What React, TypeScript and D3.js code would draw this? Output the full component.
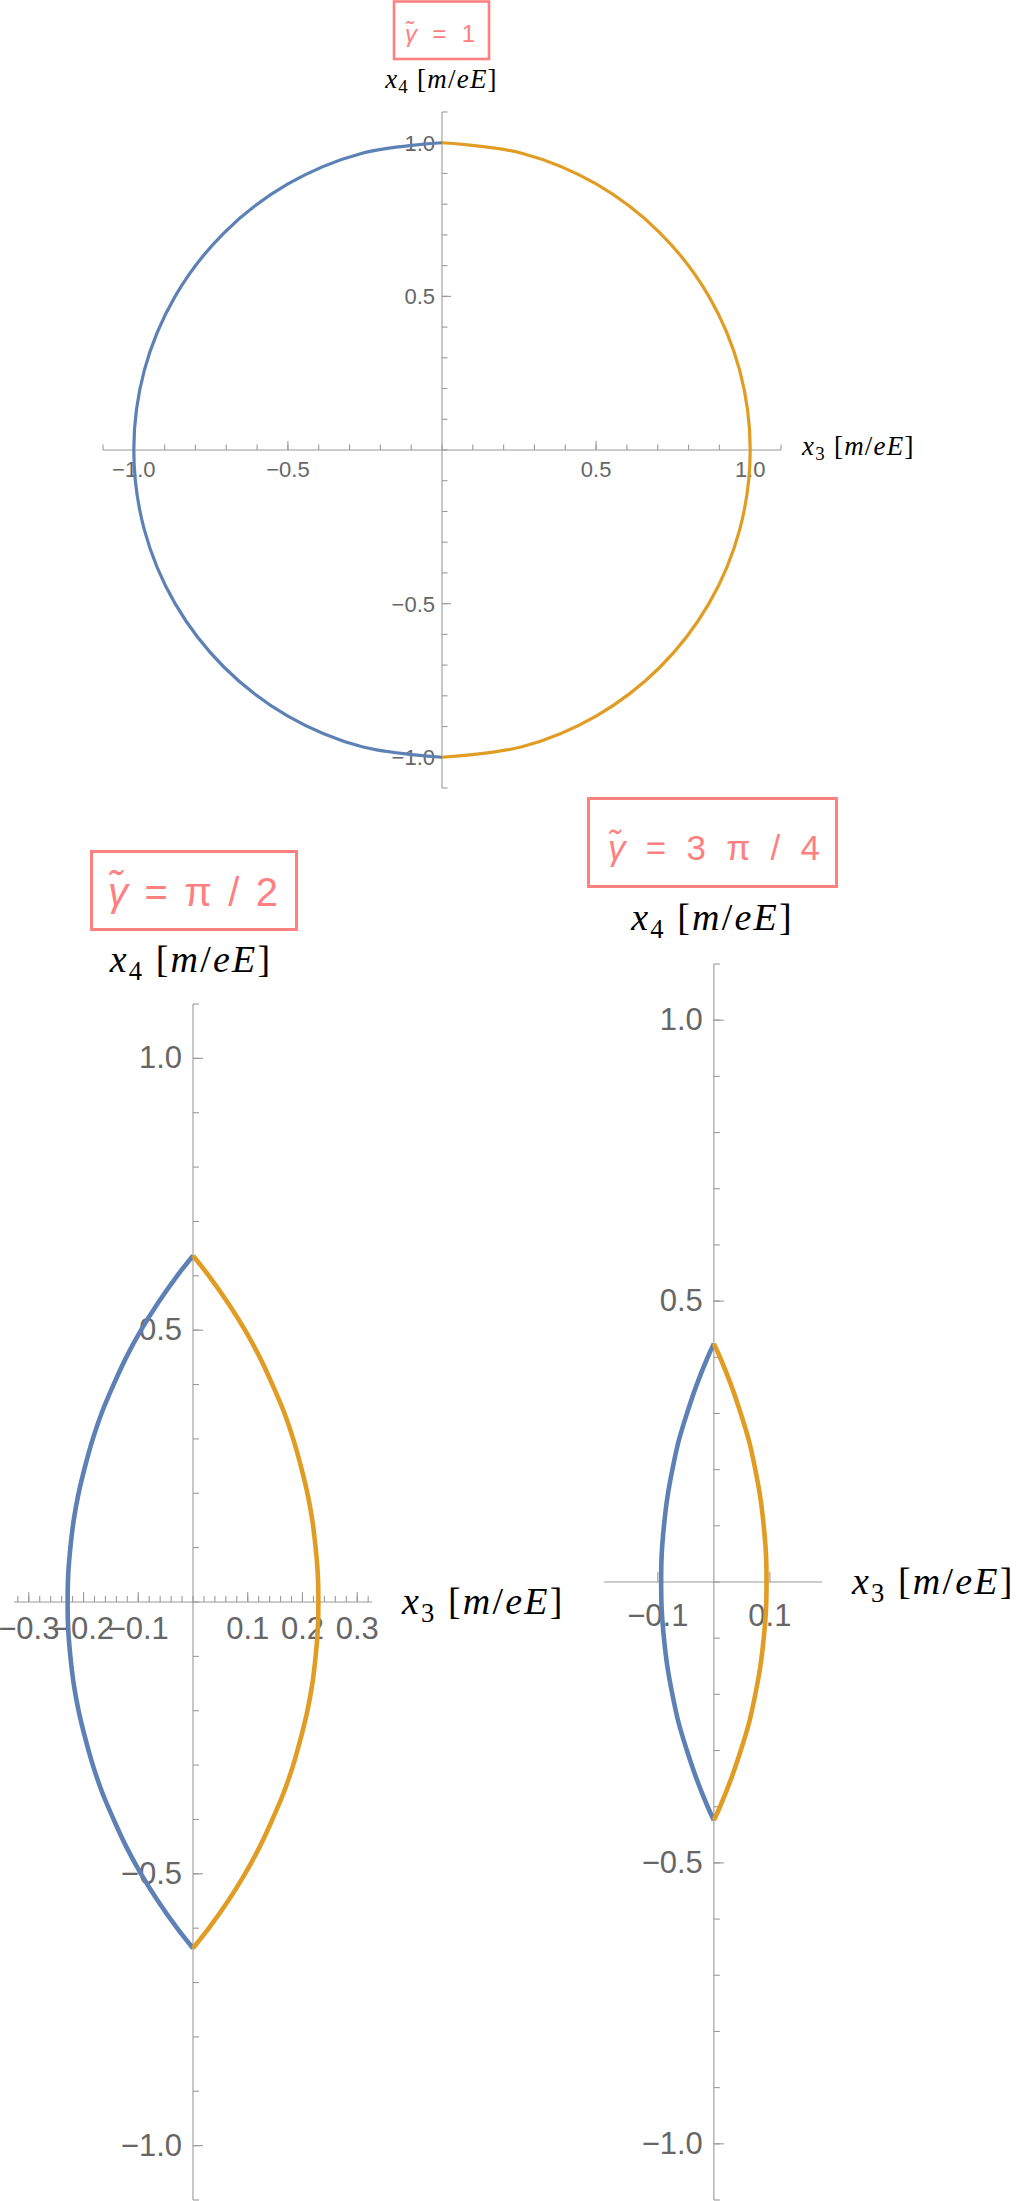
import React from "react";
import * as d3 from "d3";

// panel 1: gamma~ = 1 (unit circle)
const circleX4 = [1, 0.966, 0.866, 0.707, 0.5, 0.259, 0, -0.259, -0.5, -0.707, -0.866, -0.966, -1];
const circleRightX3 = [0, 0.259, 0.5, 0.707, 0.866, 0.966, 1, 0.966, 0.866, 0.707, 0.5, 0.259, 0];
const circleLeftX3 = [0, -0.259, -0.5, -0.707, -0.866, -0.966, -1, -0.966, -0.866, -0.707, -0.5, -0.259, 0];

// panel 2: gamma~ = pi/2
const halfPiX4 = [
  0.637, 0.6, 0.55, 0.5, 0.45, 0.4, 0.35, 0.3, 0.25, 0.2, 0.15, 0.1, 0.05, 0,
  -0.05, -0.1, -0.15, -0.2, -0.25, -0.3, -0.35, -0.4, -0.45, -0.5, -0.55, -0.6, -0.637,
];
const halfPiRightX3 = [
  0, 0.029, 0.064, 0.095, 0.122, 0.145, 0.166, 0.183, 0.197, 0.209, 0.218, 0.224, 0.228, 0.229,
  0.228, 0.224, 0.218, 0.209, 0.197, 0.183, 0.166, 0.145, 0.122, 0.095, 0.064, 0.029, 0,
];
const halfPiLeftX3 = [
  0, -0.029, -0.064, -0.095, -0.122, -0.145, -0.166, -0.183, -0.197, -0.209, -0.218, -0.224, -0.228, -0.229,
  -0.228, -0.224, -0.218, -0.209, -0.197, -0.183, -0.166, -0.145, -0.122, -0.095, -0.064, -0.029, 0,
];

// panel 3: gamma~ = 3pi/4
const threeQuarterPiX4 = [
  0.424, 0.4, 0.35, 0.3, 0.25, 0.2, 0.15, 0.1, 0.05, 0,
  -0.05, -0.1, -0.15, -0.2, -0.25, -0.3, -0.35, -0.4, -0.424,
];
const threeQuarterPiRightX3 = [
  0, 0.011, 0.031, 0.048, 0.063, 0.074, 0.083, 0.089, 0.093, 0.094,
  0.093, 0.089, 0.083, 0.074, 0.063, 0.048, 0.031, 0.011, 0,
];
const threeQuarterPiLeftX3 = [
  0, -0.011, -0.031, -0.048, -0.063, -0.074, -0.083, -0.089, -0.093, -0.094,
  -0.093, -0.089, -0.083, -0.074, -0.063, -0.048, -0.031, -0.011, 0,
];

// tick labels
const unitTicks = [-1, -0.5, 0.5, 1];
const unitTickLabels = ["\u22121.0", "\u22120.5", "0.5", "1.0"];
const halfPiXTicks = [-0.3, -0.2, -0.1, 0.1, 0.2, 0.3];
const halfPiXTickLabels = ["\u22120.3", "\u22120.2", "\u22120.1", "0.1", "0.2", "0.3"];
const threeQuarterXTicks = [-0.1, 0.1];
const threeQuarterXTickLabels = ["\u22120.1", "0.1"];

const BLUE = "#5e81b5";
const ORANGE = "#e19c24";
const AXIS = "#9a9a9a";
const TICK_TEXT = "#666666";
const TITLE = "#ff8080";
const SANS = "'Liberation Sans', Arial, Helvetica, sans-serif";
const SERIF = "'Liberation Serif', 'DejaVu Serif', serif";

const zip = (xs: number[], ys: number[]): [number, number][] => xs.map((v, i) => [v, ys[i]]);

function AxisLabel({ x, y, size, sub, anchor, spacing }: { x: number; y: number; size: number; sub: string; anchor: string; spacing: number }) {
  return (
    <text x={x} y={y} fontFamily={SERIF} fontSize={size} textAnchor={anchor} letterSpacing={spacing} fill="#000">
      <tspan fontStyle="italic">x</tspan>
      <tspan fontSize={size * 0.7} dy={size * 0.2}>{sub}</tspan>
      <tspan dx={size * 0.3} dy={-size * 0.2}>[</tspan>
      <tspan fontStyle="italic">m</tspan>
      <tspan>/</tspan>
      <tspan fontStyle="italic">eE</tspan>
      <tspan>]</tspan>
    </text>
  );
}

function Title({ box, text, x, y, size, width, stroke }: { box: [number, number, number, number]; text: string; x: number; y: number; size: number; width: number; stroke: number }) {
  return (
    <g>
      <rect x={box[0]} y={box[1]} width={box[2] - box[0]} height={box[3] - box[1]} fill="none" stroke={TITLE} strokeWidth={stroke} />
      <text x={x} y={y} fontFamily={SANS} fontSize={size} fill={TITLE} textLength={width} lengthAdjust="spacing">
        <tspan fontStyle="italic">{"\u03b3\u0303"}</tspan>
        {text}
      </text>
    </g>
  );
}

interface PanelProps {
  xDomain: [number, number];
  xRange: [number, number];
  yDomain: [number, number];
  yRange: [number, number];
  xTicks: number[];
  xTickLabels: string[];
  yTicks: number[];
  yTickLabels: string[];
  xMinorCount: number;
  yMinorCount: number;
  majorLen: number;
  minorLen: number;
  tickSize: number;
  xLabelDy: number;
  yLabelDx: number;
  yLabelDy: number;
  strokeWidth: number;
  left: [number, number][];
  right: [number, number][];
}

function Panel(p: PanelProps) {
  const x = d3.scaleLinear().domain(p.xDomain).range(p.xRange);
  const y = d3.scaleLinear().domain(p.yDomain).range(p.yRange);
  const x0 = x(0);
  const y0 = y(0);
  const line = d3
    .line<[number, number]>()
    .x((d) => x(d[0]))
    .y((d) => y(d[1]))
    .curve(d3.curveCatmullRom.alpha(0.5));
  const xMinor = p.xMinorCount ? x.ticks(p.xMinorCount) : [];
  const yMinor = p.yMinorCount ? y.ticks(p.yMinorCount) : [];

  return (
    <g>
      <g stroke={AXIS} strokeWidth={1.1} fill="none">
        <line x1={p.xRange[0]} x2={p.xRange[1]} y1={y0} y2={y0} />
        <line x1={x0} x2={x0} y1={p.yRange[0]} y2={p.yRange[1]} />
        {xMinor.map((t, i) => (
          <line key={"xm" + i} x1={x(t)} x2={x(t)} y1={y0} y2={y0 - p.minorLen} />
        ))}
        {p.xTicks.map((t, i) => (
          <line key={"xM" + i} x1={x(t)} x2={x(t)} y1={y0} y2={y0 - p.majorLen} />
        ))}
        {yMinor.map((t, i) => (
          <line key={"ym" + i} x1={x0} x2={x0 + p.minorLen} y1={y(t)} y2={y(t)} />
        ))}
        {p.yTicks.map((t, i) => (
          <line key={"yM" + i} x1={x0} x2={x0 + p.majorLen} y1={y(t)} y2={y(t)} />
        ))}
      </g>
      <g fontFamily={SANS} fontSize={p.tickSize} fill={TICK_TEXT}>
        {p.xTicks.map((t, i) => (
          <text key={"xl" + i} x={x(t)} y={y0 + p.xLabelDy} textAnchor="middle">
            {p.xTickLabels[i]}
          </text>
        ))}
        {p.yTicks.map((t, i) => (
          <text key={"yl" + i} x={x0 + p.yLabelDx} y={y(t) + p.yLabelDy} textAnchor="end">
            {p.yTickLabels[i]}
          </text>
        ))}
      </g>
      <path d={line(p.left) || ""} fill="none" stroke={BLUE} strokeWidth={p.strokeWidth} />
      <path d={line(p.right) || ""} fill="none" stroke={ORANGE} strokeWidth={p.strokeWidth} />
    </g>
  );
}

export default function App() {
  return (
    <svg
      width={1020}
      height={2201}
      viewBox="0 0 1020 2201"
      style={{ position: "absolute", left: 0, top: 0, background: "#fff" }}
    >
      {/* gamma~ = 1 */}
      <Title box={[394, 1.5, 489, 59]} text={" = 1"} x={405} y={42} size={24} width={70} stroke={2.6} />
      <AxisLabel x={441.5} y={88} size={27} sub="4" anchor="middle" spacing={1.2} />
      <AxisLabel x={802} y={455} size={27} sub="3" anchor="start" spacing={1.2} />
      <Panel
        xDomain={[-1.1, 1.1]}
        xRange={[103, 781]}
        yDomain={[-1.1, 1.1]}
        yRange={[788, 112]}
        xTicks={unitTicks}
        xTickLabels={unitTickLabels}
        yTicks={unitTicks}
        yTickLabels={unitTickLabels}
        xMinorCount={22}
        yMinorCount={22}
        majorLen={9}
        minorLen={5.5}
        tickSize={22}
        xLabelDy={27}
        yLabelDx={-7}
        yLabelDy={8}
        strokeWidth={3.2}
        left={zip(circleLeftX3, circleX4)}
        right={zip(circleRightX3, circleX4)}
      />

      {/* gamma~ = pi/2 */}
      <Title box={[91.5, 851.5, 296.5, 929.5]} text={" = \u03c0 / 2"} x={108} y={906} size={40} width={170} stroke={3} />
      <AxisLabel x={191} y={972} size={38} sub="4" anchor="middle" spacing={2.2} />
      <AxisLabel x={402} y={1614} size={38} sub="3" anchor="start" spacing={2.2} />
      <Panel
        xDomain={[-0.327, 0.327]}
        xRange={[14, 372]}
        yDomain={[-1.1, 1.1]}
        yRange={[2200, 1004]}
        xTicks={halfPiXTicks}
        xTickLabels={halfPiXTickLabels}
        yTicks={unitTicks}
        yTickLabels={unitTickLabels}
        xMinorCount={32}
        yMinorCount={22}
        majorLen={10}
        minorLen={6}
        tickSize={31}
        xLabelDy={37}
        yLabelDx={-11}
        yLabelDy={10}
        strokeWidth={4.6}
        left={zip(halfPiLeftX3, halfPiX4)}
        right={zip(halfPiRightX3, halfPiX4)}
      />

      {/* gamma~ = 3pi/4 */}
      <Title box={[588.5, 798.5, 836.5, 886.5]} text={" = 3 \u03c0 / 4"} x={608} y={860} size={35} width={212} stroke={3} />
      <AxisLabel x={712.5} y={930} size={38} sub="4" anchor="middle" spacing={2.2} />
      <AxisLabel x={852} y={1594} size={38} sub="3" anchor="start" spacing={2.2} />
      <Panel
        xDomain={[-0.196, 0.193]}
        xRange={[604, 822]}
        yDomain={[-1.1, 1.1]}
        yRange={[2200, 964]}
        xTicks={threeQuarterXTicks}
        xTickLabels={threeQuarterXTickLabels}
        yTicks={unitTicks}
        yTickLabels={unitTickLabels}
        xMinorCount={0}
        yMinorCount={22}
        majorLen={10}
        minorLen={6}
        tickSize={31}
        xLabelDy={44}
        yLabelDx={-11}
        yLabelDy={10}
        strokeWidth={4.6}
        left={zip(threeQuarterPiLeftX3, threeQuarterPiX4)}
        right={zip(threeQuarterPiRightX3, threeQuarterPiX4)}
      />
    </svg>
  );
}
